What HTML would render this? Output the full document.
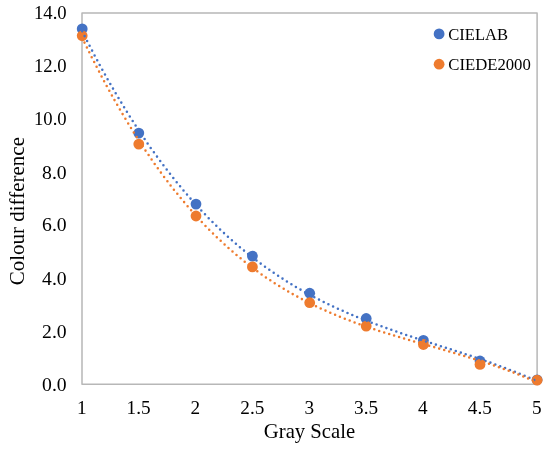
<!DOCTYPE html>
<html lang="en"><head><meta charset="utf-8"><title>Colour difference vs Gray Scale</title>
<style>
html,body{margin:0;padding:0;background:#fff;}
body{width:550px;height:451px;overflow:hidden;}
svg{display:block;}
text{font-family:"Liberation Serif","Times New Roman",serif;fill:#000;}
.tick{font-size:18.67px;}
.title{font-size:21px;}
.xt{font-size:20.4px;}
.leg{font-size:16.5px;}
</style></head><body>
<svg width="550" height="451" viewBox="0 0 550 451">
<rect x="0" y="0" width="550" height="451" fill="#ffffff"/>
<path d="M82,384.15V13H537.1V384.15Z" fill="none" stroke="#B7B7B7" stroke-width="1.5" stroke-linejoin="round"/>

<g fill="#4472C4">
<circle cx="82.2" cy="28.9" r="5.4"/>
<circle cx="138.8" cy="133.1" r="5.4"/>
<circle cx="196.0" cy="204.1" r="5.4"/>
<circle cx="252.4" cy="256.1" r="5.4"/>
<circle cx="309.7" cy="293.2" r="5.4"/>
<circle cx="366.2" cy="318.5" r="5.4"/>
<circle cx="423.4" cy="340.4" r="5.4"/>
<circle cx="480.0" cy="361.0" r="5.4"/>
<circle cx="537.1" cy="379.8" r="5.4"/>
</g>
<g fill="#EE7B2E">
<circle cx="82.2" cy="35.8" r="5.4"/>
<circle cx="138.8" cy="144.1" r="5.4"/>
<circle cx="196.0" cy="216.0" r="5.4"/>
<circle cx="252.4" cy="266.9" r="5.4"/>
<circle cx="309.7" cy="302.7" r="5.4"/>
<circle cx="366.2" cy="326.1" r="5.4"/>
<circle cx="423.4" cy="344.5" r="5.4"/>
<circle cx="480.0" cy="364.4" r="5.4"/>
<circle cx="537.1" cy="380.2" r="5.4"/>
</g>
<path d="M82.2,31.3h0M84.6,36.1h0M87.1,41.0h0M89.6,45.8h0M92.1,50.6h0M94.6,55.4h0M97.2,60.2h0M99.7,65.0h0M102.3,69.7h0M105.0,74.5h0M107.6,79.2h0M110.3,83.9h0M113.0,88.6h0M115.7,93.3h0M118.5,98.0h0M121.3,102.6h0M124.1,107.2h0M126.9,111.8h0M129.8,116.4h0M132.7,121.0h0M135.6,125.5h0M138.6,130.0h0M141.6,134.5h0M144.6,139.0h0M147.6,143.4h0M150.7,147.9h0M153.9,152.2h0M157.0,156.6h0M160.2,161.0h0M163.4,165.3h0M166.7,169.5h0M170.0,173.8h0M173.3,178.0h0M176.7,182.2h0M180.1,186.3h0M183.5,190.5h0M187.0,194.5h0M190.5,198.6h0M194.1,202.6h0M197.7,206.5h0M201.3,210.5h0M205.0,214.3h0M208.7,218.2h0M212.5,222.0h0M216.3,225.7h0M220.1,229.4h0M224.0,233.1h0M227.9,236.7h0M231.9,240.2h0M235.9,243.7h0M239.9,247.2h0M244.0,250.6h0M248.1,253.9h0M252.3,257.2h0M256.5,260.4h0M260.7,263.6h0M265.0,266.7h0M269.3,269.8h0M273.7,272.8h0M278.1,275.7h0M282.5,278.6h0M286.9,281.5h0M291.4,284.2h0M295.9,286.9h0M300.5,289.6h0M305.1,292.2h0M309.7,294.7h0M314.3,297.2h0M319.0,299.6h0M323.7,301.9h0M328.4,304.2h0M333.1,306.5h0M337.9,308.7h0M342.7,310.8h0M347.5,312.9h0M352.3,314.9h0M357.1,316.9h0M362.0,318.9h0M366.8,320.8h0M371.7,322.7h0M376.6,324.5h0M381.5,326.3h0M386.4,328.1h0M391.3,329.8h0M396.3,331.5h0M401.2,333.2h0M406.2,334.9h0M411.1,336.5h0M416.1,338.2h0M421.0,339.8h0M426.0,341.4h0M431.0,343.0h0M435.9,344.6h0M440.9,346.2h0M445.9,347.7h0M450.8,349.3h0M455.8,350.9h0M460.8,352.6h0M465.7,354.2h0M470.7,355.8h0M475.6,357.5h0M480.6,359.2h0M485.5,360.9h0M490.4,362.6h0M495.3,364.4h0M500.2,366.2h0M505.1,368.0h0M510.0,369.9h0M514.9,371.8h0M519.7,373.8h0M524.6,375.8h0M529.4,377.8h0M534.2,379.9h0" fill="none" stroke="#4472C4" stroke-width="2.55" stroke-linecap="round"/>
<path d="M82.2,37.7h0M84.5,42.6h0M86.9,47.5h0M89.3,52.3h0M91.7,57.2h0M94.2,62.0h0M96.6,66.8h0M99.1,71.6h0M101.6,76.4h0M104.1,81.2h0M106.7,85.9h0M109.3,90.7h0M111.9,95.4h0M114.5,100.1h0M117.2,104.8h0M119.9,109.5h0M122.6,114.1h0M125.4,118.8h0M128.2,123.4h0M131.0,128.0h0M133.8,132.5h0M136.7,137.1h0M139.6,141.6h0M142.6,146.1h0M145.5,150.6h0M148.6,155.0h0M151.6,159.5h0M154.7,163.9h0M157.8,168.2h0M160.9,172.6h0M164.1,176.9h0M167.4,181.2h0M170.6,185.4h0M173.9,189.7h0M177.3,193.8h0M180.7,198.0h0M184.1,202.1h0M187.6,206.2h0M191.1,210.2h0M194.6,214.2h0M198.2,218.1h0M201.8,222.0h0M205.5,225.9h0M209.2,229.7h0M213.0,233.5h0M216.8,237.2h0M220.7,240.8h0M224.6,244.4h0M228.5,248.0h0M232.5,251.5h0M236.5,255.0h0M240.6,258.3h0M244.7,261.7h0M248.9,264.9h0M253.1,268.1h0M257.3,271.3h0M261.6,274.4h0M265.9,277.4h0M270.3,280.3h0M274.7,283.2h0M279.2,286.0h0M283.7,288.8h0M288.2,291.5h0M292.7,294.1h0M297.3,296.6h0M301.9,299.1h0M306.6,301.5h0M311.3,303.9h0M316.0,306.2h0M320.7,308.4h0M325.5,310.6h0M330.3,312.7h0M335.1,314.7h0M339.9,316.7h0M344.8,318.7h0M349.7,320.5h0M354.6,322.4h0M359.5,324.2h0M364.4,325.9h0M369.3,327.6h0M374.3,329.2h0M379.2,330.9h0M384.2,332.4h0M389.2,334.0h0M394.1,335.5h0M399.1,337.0h0M404.1,338.5h0M409.1,340.0h0M414.1,341.4h0M419.2,342.8h0M424.2,344.3h0M429.2,345.7h0M434.2,347.1h0M439.2,348.6h0M444.2,350.0h0M449.2,351.4h0M454.2,352.9h0M459.2,354.4h0M464.2,355.9h0M469.2,357.4h0M474.2,358.9h0M479.1,360.5h0M484.1,362.1h0M489.0,363.7h0M494.0,365.4h0M498.9,367.2h0M503.8,368.9h0M508.7,370.7h0M513.6,372.6h0M518.4,374.5h0M523.3,376.5h0M528.1,378.5h0M532.9,380.6h0" fill="none" stroke="#EE7B2E" stroke-width="2.55" stroke-linecap="round"/>
<text class="tick" transform="translate(66.7,390.80) scale(1.055,1)" text-anchor="end">0.0</text>
<text class="tick" transform="translate(66.7,337.75) scale(1.055,1)" text-anchor="end">2.0</text>
<text class="tick" transform="translate(66.7,284.75) scale(1.055,1)" text-anchor="end">4.0</text>
<text class="tick" transform="translate(66.7,231.10) scale(1.055,1)" text-anchor="end">6.0</text>
<text class="tick" transform="translate(66.7,178.70) scale(1.055,1)" text-anchor="end">8.0</text>
<text class="tick" transform="translate(66.7,124.85) scale(1.0,1)" text-anchor="end">10.0</text>
<text class="tick" transform="translate(66.7,71.80) scale(1.0,1)" text-anchor="end">12.0</text>
<text class="tick" transform="translate(66.7,19.30) scale(1.0,1)" text-anchor="end">14.0</text>
<text class="tick" transform="translate(81.7,413.85) scale(1.03,1)" text-anchor="middle">1</text>
<text class="tick" transform="translate(138.6,413.85) scale(1.03,1)" text-anchor="middle">1.5</text>
<text class="tick" transform="translate(195.4,413.85) scale(1.03,1)" text-anchor="middle">2</text>
<text class="tick" transform="translate(252.3,413.85) scale(1.03,1)" text-anchor="middle">2.5</text>
<text class="tick" transform="translate(309.2,413.85) scale(1.03,1)" text-anchor="middle">3</text>
<text class="tick" transform="translate(366.1,413.85) scale(1.03,1)" text-anchor="middle">3.5</text>
<text class="tick" transform="translate(422.9,413.85) scale(1.03,1)" text-anchor="middle">4</text>
<text class="tick" transform="translate(479.8,413.85) scale(1.03,1)" text-anchor="middle">4.5</text>
<text class="tick" transform="translate(536.7,413.85) scale(1.03,1)" text-anchor="middle">5</text>
<text class="xt" x="309.5" y="437.6" text-anchor="middle" textLength="91.3" lengthAdjust="spacingAndGlyphs">Gray Scale</text>
<text class="title" transform="translate(23.55,211.2) rotate(-90)" text-anchor="middle" textLength="148.3" lengthAdjust="spacingAndGlyphs">Colour difference</text>
<circle cx="439.1" cy="33.9" r="5.4" fill="#4472C4"/>
<circle cx="439.1" cy="64.2" r="5.4" fill="#EE7B2E"/>
<text class="leg" x="448.3" y="39.6" textLength="59.8" lengthAdjust="spacingAndGlyphs">CIELAB</text>
<text class="leg" x="448.3" y="70.1" textLength="82.5" lengthAdjust="spacingAndGlyphs">CIEDE2000</text>
</svg></body></html>
